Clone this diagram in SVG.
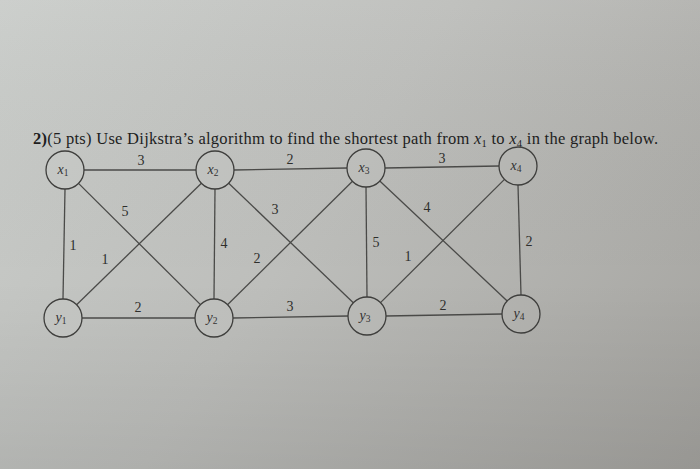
<svg xmlns="http://www.w3.org/2000/svg" width="700" height="469" viewBox="0 0 700 469">
<defs>
<linearGradient id="bg" gradientUnits="userSpaceOnUse" x1="0" y1="0" x2="700" y2="469">
<stop offset="0" stop-color="#cacdca"/>
<stop offset="0.45" stop-color="#bdbebb"/>
<stop offset="1" stop-color="#a4a39f"/>
</linearGradient>
<linearGradient id="shade" gradientUnits="userSpaceOnUse" x1="0" y1="0" x2="0" y2="469">
<stop offset="0" stop-color="#ffffff" stop-opacity="0.05"/>
<stop offset="0.6" stop-color="#000000" stop-opacity="0"/>
<stop offset="1" stop-color="#000000" stop-opacity="0.08"/>
</linearGradient>
<style>
.edge{stroke:#4a4a48;stroke-width:1.3;fill:none}
.node{fill:url(#bg);stroke:#3e3e3c;stroke-width:1.3}
.nl{font-family:"Liberation Serif",serif;font-style:italic;font-size:14px;fill:#333;text-anchor:middle}
.sub{font-size:9.5px;font-style:normal}
.w{font-family:"Liberation Serif",serif;font-size:14px;fill:#2e2e2c;text-anchor:middle}
.title{font-family:"Liberation Serif",serif;font-size:16.5px;fill:#1e1e1e}
</style>
</defs>
<rect width="700" height="469" fill="url(#bg)"/>
<rect width="700" height="469" fill="url(#shade)"/>
<text class="title" x="33" y="144" textLength="625" lengthAdjust="spacing"><tspan font-weight="bold">2)</tspan>(5 pts) Use Dijkstra’s algorithm to find the shortest path from <tspan font-style="italic">x</tspan><tspan font-size="10.5" dy="3">1</tspan><tspan dy="-3"> to </tspan><tspan font-style="italic">x</tspan><tspan font-size="10.5" dy="3">4</tspan><tspan dy="-3"> in the graph below.</tspan></text>
<g id="connectors">
<line class="edge" x1="84" y1="170" x2="196" y2="170"/>
<line class="edge" x1="234" y1="170" x2="347" y2="168"/>
<line class="edge" x1="385" y1="168" x2="499" y2="166"/>
<line class="edge" x1="82" y1="318" x2="195" y2="318"/>
<line class="edge" x1="233" y1="318" x2="348" y2="316"/>
<line class="edge" x1="386" y1="316" x2="502" y2="314"/>
<line class="edge" x1="65" y1="189" x2="63" y2="299"/>
<line class="edge" x1="215" y1="189" x2="214" y2="299"/>
<line class="edge" x1="366" y1="187" x2="367" y2="297"/>
<line class="edge" x1="518" y1="185" x2="521" y2="295"/>
<line class="edge" x1="78.5" y1="183.4" x2="200.5" y2="304.6"/>
<line class="edge" x1="201.4" y1="183.3" x2="76.6" y2="304.7"/>
<line class="edge" x1="228.7" y1="183.2" x2="353.3" y2="302.8"/>
<line class="edge" x1="352.5" y1="181.3" x2="227.5" y2="304.7"/>
<line class="edge" x1="379.8" y1="181" x2="507.2" y2="301"/>
<line class="edge" x1="504.5" y1="179.4" x2="380.5" y2="302.6"/>
<text class="w" x="141" y="165">3</text>
<text class="w" x="290" y="164">2</text>
<text class="w" x="442" y="163">3</text>
<text class="w" x="138" y="312">2</text>
<text class="w" x="290" y="311">3</text>
<text class="w" x="443" y="310">2</text>
<text class="w" x="73" y="250">1</text>
<text class="w" x="125" y="216">5</text>
<text class="w" x="105" y="264">1</text>
<text class="w" x="224" y="248">4</text>
<text class="w" x="275" y="214">3</text>
<text class="w" x="257" y="263">2</text>
<text class="w" x="376" y="247">5</text>
<text class="w" x="427" y="212">4</text>
<text class="w" x="408" y="261">1</text>
<text class="w" x="529" y="246">2</text>
</g>
<g id="x1"><circle class="node" cx="65" cy="170" r="19"/><text class="nl" x="63" y="174">x<tspan class="sub" dy="2">1</tspan></text></g>
<g id="x2"><circle class="node" cx="215" cy="170" r="19"/><text class="nl" x="213" y="174">x<tspan class="sub" dy="2">2</tspan></text></g>
<g id="x3"><circle class="node" cx="366" cy="168" r="19"/><text class="nl" x="364" y="172">x<tspan class="sub" dy="2">3</tspan></text></g>
<g id="x4"><circle class="node" cx="518" cy="166" r="19"/><text class="nl" x="516" y="170">x<tspan class="sub" dy="2">4</tspan></text></g>
<g id="y1"><circle class="node" cx="63" cy="318" r="19"/><text class="nl" x="61" y="322">y<tspan class="sub" dy="2">1</tspan></text></g>
<g id="y2"><circle class="node" cx="214" cy="318" r="19"/><text class="nl" x="212" y="322">y<tspan class="sub" dy="2">2</tspan></text></g>
<g id="y3"><circle class="node" cx="367" cy="316" r="19"/><text class="nl" x="365" y="320">y<tspan class="sub" dy="2">3</tspan></text></g>
<g id="y4"><circle class="node" cx="521" cy="314" r="19"/><text class="nl" x="519" y="318">y<tspan class="sub" dy="2">4</tspan></text></g>
</svg>
